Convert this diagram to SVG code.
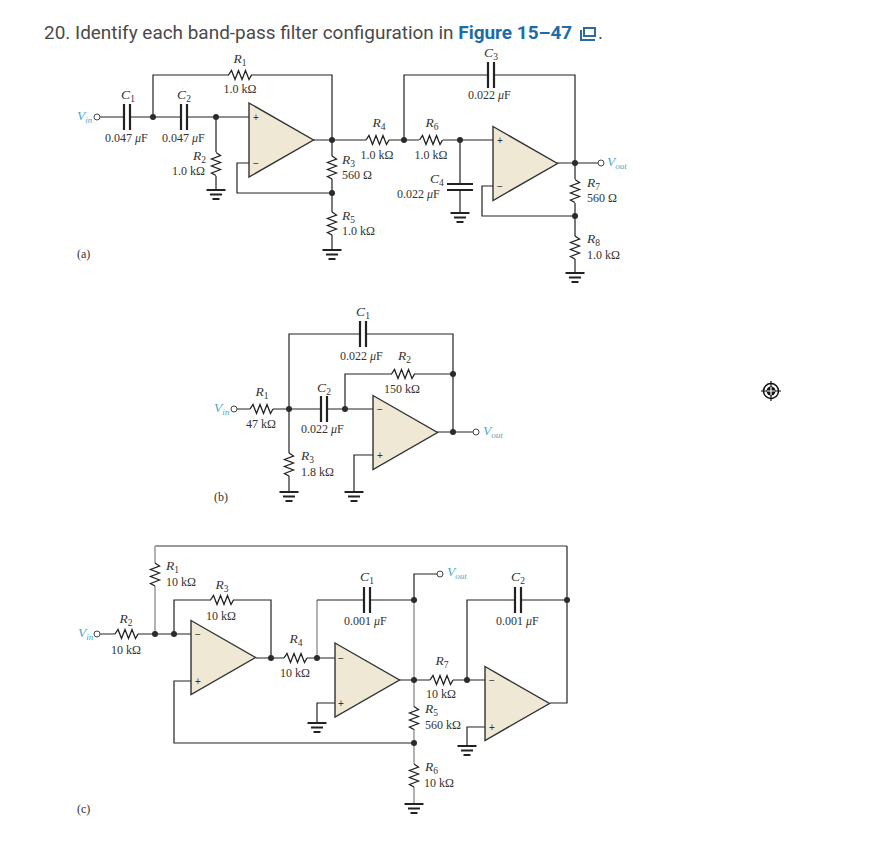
<svg xmlns="http://www.w3.org/2000/svg" width="883" height="841" viewBox="0 0 883 841">
<style>
text{font-family:"Liberation Serif","Times New Roman",serif;font-size:12px;fill:#333}
.m{text-anchor:middle}
.sym{font-size:13.5px;font-style:italic}
.sub{font-size:9.5px;font-style:normal}
.isub{font-size:9px;font-style:italic}
.u{font-style:italic}
.v{fill:#4da6cc}
.v .isub{fill:#4da6cc}
.sign{font-family:"Liberation Sans",sans-serif;font-size:10px;text-anchor:middle;fill:#333}
.title{font-family:Roboto,"Liberation Sans",sans-serif;font-size:18.950px;fill:#4a4a4a}
.link{font-family:Roboto,"Liberation Sans",sans-serif;font-size:18.950px;font-weight:700;fill:#1b6ca8}
.w{fill:none;stroke:#222;stroke-width:1.2}
.g1{fill:none;stroke:#777;stroke-width:1.3}
.g2{fill:none;stroke:#aaa;stroke-width:1.8}
.z{fill:none;stroke:#222;stroke-width:1.3;stroke-linejoin:miter}
.p{fill:none;stroke:#222;stroke-width:2.2}
.amp{fill:#efe8d4;stroke:#333;stroke-width:1.4}
.dot{fill:#2b2b2b}
.open{fill:#fff;stroke:#444;stroke-width:1}
.gnd{fill:none;stroke:#222;stroke-width:2}
</style>
<defs>
<path id="rh" class="z" d="M-11.5,0L-8.5,-4.5L-5,4.5L-1.5,-4.5L2,4.5L5.5,-4.5L9,4.5L11.5,0"/>
<path id="rv" class="z" d="M0,-11.5L4.5,-8.5L-4.5,-5L4.5,-1.5L-4.5,2L4.5,5.5L-4.5,9L0,11.5"/>
<path id="cv" class="p" d="M-3,-13V13M3,-13V13"/>
<path id="ch" class="p" d="M-13,-3H13M-13,3H13"/>
<path id="gnd" class="gnd" d="M-9.500,0H9.500M-6,4.500H6M-3.500,9H3.500"/>
<path id="amp" class="amp" d="M0,-37L64.500,0L0,37Z"/>
<circle id="dot" class="dot" r="3"/>
<circle id="open" class="open" r="3"/>
</defs>
<rect width="883" height="841" fill="#fff"/>

<g id="heading">
<text class="title" x="44" y="39">20. Identify each band-pass filter configuration in <tspan class="link">Figure 15–47</tspan></text>
<path fill="none" stroke="#2a6aa5" stroke-width="2" d="M584,28H595V36H584Z"/>
<path fill="none" stroke="#2a6aa5" stroke-width="2" d="M581,30V40H595"/>
<text class="title" x="598" y="39">.</text>
</g>

<g id="connectors">
<path class="w" d="M100,117H124M130,117H181M187,117H249M153,117V75H229M251,75H332V140M313,140H366M389,140H419M443,140H493M216,117V152M216,176V190M249,163H237V193H332M332,140V156M332,179V212M332,235V250M404,140V75H488M494,75H575V163M557,163H598M460,140V184M460,190V213M575,163V179M575,203V236M575,259V273M493,186H482V216H575"/>
<path class="w" d="M237,409H250M273,409H321M327,409H373M289,409V334H360M366,334H453V432M345,409V374H392M414,374H453M437,432H473M289,409V453M289,476V492M373,455H354V492"/>
<path class="g1" d="M155,546H567"/>
<path class="g2" d="M155,546V563M155,586V634M317,658V600M414,600V707M414,729V764M414,787V804"/>
<path class="w" d="M100,634H115M138,634H191M174,634V600H211M233,600H271V658M256,658H284M307,658H335M317,600H364M370,600H414M335,703H317V723M399,680H430M453,680H485M191,681H174V743H414M414,600V574H437M467,680V600H515M521,600H567M567,546V703H550M485,727H467V746"/>
</g>

<g id="panel-a">
<g id="a-vin"><use href="#open" x="97" y="117"/><text class="v sym" x="77" y="120">V<tspan class="isub" dy="3">in</tspan></text></g>
<g id="a-c1"><use href="#cv" x="127" y="117"/><text class="sym m" x="128" y="99">C<tspan class="sub" dy="3">1</tspan></text><text x="105" y="142">0.047 <tspan class="u">μ</tspan>F</text></g>
<g id="a-c2"><use href="#cv" x="184" y="117"/><text class="sym m" x="184" y="99">C<tspan class="sub" dy="3">2</tspan></text><text x="162" y="142">0.047 <tspan class="u">μ</tspan>F</text></g>
<g id="a-r1"><use href="#rh" x="240" y="75"/><text class="sym m" x="240" y="63">R<tspan class="sub" dy="3">1</tspan></text><text class="m" x="240" y="93">1.0 kΩ</text></g>
<g id="a-r2"><use href="#rv" x="216" y="164"/><text class="sym" x="193" y="160">R<tspan class="sub" dy="3">2</tspan></text><text x="172" y="175">1.0 kΩ</text></g>
<g id="a-u1"><use href="#amp" x="249" y="140"/><text class="sign" x="256" y="120.500">+</text><text class="sign" x="256" y="166.500">−</text></g>
<g id="a-r3"><use href="#rv" x="332" y="167.500"/><text class="sym" x="342" y="164">R<tspan class="sub" dy="3">3</tspan></text><text x="342" y="179">560 Ω</text></g>
<g id="a-r5"><use href="#rv" x="332" y="223.500"/><text class="sym" x="342" y="220">R<tspan class="sub" dy="3">5</tspan></text><text x="342" y="235">1.0 kΩ</text></g>
<g id="a-r4"><use href="#rh" x="377.500" y="140"/><text class="sym m" x="379" y="127">R<tspan class="sub" dy="3">4</tspan></text><text class="m" x="377" y="159">1.0 kΩ</text></g>
<g id="a-r6"><use href="#rh" x="431" y="140"/><text class="sym m" x="432" y="127">R<tspan class="sub" dy="3">6</tspan></text><text class="m" x="431" y="159">1.0 kΩ</text></g>
<g id="a-c3"><use href="#cv" x="491" y="75"/><text class="sym m" x="491" y="57">C<tspan class="sub" dy="3">3</tspan></text><text x="468" y="99">0.022 <tspan class="u">μ</tspan>F</text></g>
<g id="a-c4"><use href="#ch" x="460" y="187"/><text class="sym" x="430" y="183">C<tspan class="sub" dy="3">4</tspan></text><text x="397" y="198">0.022 <tspan class="u">μ</tspan>F</text></g>
<g id="a-u2"><use href="#amp" x="493" y="163.500"/><text class="sign" x="500" y="143.500">+</text><text class="sign" x="500" y="189.500">−</text></g>
<g id="a-r7"><use href="#rv" x="575" y="191"/><text class="sym" x="587" y="187">R<tspan class="sub" dy="3">7</tspan></text><text x="587" y="202">560 Ω</text></g>
<g id="a-r8"><use href="#rv" x="575" y="247.500"/><text class="sym" x="587" y="243">R<tspan class="sub" dy="3">8</tspan></text><text x="587" y="259">1.0 kΩ</text></g>
<g id="a-vout"><use href="#open" x="601" y="163"/><text class="v sym" x="607" y="166">V<tspan class="isub" dy="3">out</tspan></text></g>
<g id="a-junctions"><use href="#dot" x="153" y="117"/><use href="#dot" x="216" y="117"/><use href="#dot" x="332" y="140"/><use href="#dot" x="332" y="193"/><use href="#dot" x="404" y="140"/><use href="#dot" x="460" y="140"/><use href="#dot" x="575" y="163"/><use href="#dot" x="575" y="216"/></g>
<g id="a-grounds"><use href="#gnd" x="216" y="190"/><use href="#gnd" x="332" y="250"/><use href="#gnd" x="460" y="213"/><use href="#gnd" x="575" y="273"/></g>
<text id="a-label" x="77" y="258">(a)</text>
</g>

<g id="panel-b">
<g id="b-vin"><use href="#open" x="234" y="409"/><text class="v sym" x="214" y="412">V<tspan class="isub" dy="3">in</tspan></text></g>
<g id="b-r1"><use href="#rh" x="261.500" y="409"/><text class="sym m" x="262" y="396">R<tspan class="sub" dy="3">1</tspan></text><text class="m" x="261" y="428">47 kΩ</text></g>
<g id="b-c1"><use href="#cv" x="363" y="334"/><text class="sym m" x="363" y="316">C<tspan class="sub" dy="3">1</tspan></text><text x="340" y="360">0.022 <tspan class="u">μ</tspan>F</text></g>
<g id="b-c2"><use href="#cv" x="324" y="409"/><text class="sym m" x="324" y="392">C<tspan class="sub" dy="3">2</tspan></text><text x="301" y="433">0.022 <tspan class="u">μ</tspan>F</text></g>
<g id="b-r2"><use href="#rh" x="403" y="374"/><text class="sym" x="398" y="360">R<tspan class="sub" dy="3">2</tspan></text><text class="m" x="402" y="393">150 kΩ</text></g>
<g id="b-r3"><use href="#rv" x="289" y="464.500"/><text class="sym" x="301" y="460">R<tspan class="sub" dy="3">3</tspan></text><text x="301" y="476">1.8 kΩ</text></g>
<g id="b-u1"><use href="#amp" x="373" y="432.500"/><text class="sign" x="380" y="458.500">+</text><text class="sign" x="380" y="412.500">−</text></g>
<g id="b-vout"><use href="#open" x="476" y="432"/><text class="v sym" x="483" y="435">V<tspan class="isub" dy="3">out</tspan></text></g>
<g id="b-junctions"><use href="#dot" x="289" y="409"/><use href="#dot" x="345" y="409"/><use href="#dot" x="453" y="374"/><use href="#dot" x="453" y="432"/></g>
<g id="b-grounds"><use href="#gnd" x="289" y="492"/><use href="#gnd" x="354" y="492"/></g>
<text id="b-label" x="214" y="501">(b)</text>
</g>

<g id="panel-c">
<g id="c-vin"><use href="#open" x="97" y="634"/><text class="v sym" x="78" y="637">V<tspan class="isub" dy="3">in</tspan></text></g>
<g id="c-r1"><use href="#rv" x="155" y="574.500"/><text class="sym" x="166" y="570">R<tspan class="sub" dy="3">1</tspan></text><text x="166" y="586">10 kΩ</text></g>
<g id="c-r2"><use href="#rh" x="126.500" y="634"/><text class="sym m" x="126" y="623">R<tspan class="sub" dy="3">2</tspan></text><text class="m" x="126" y="654">10 kΩ</text></g>
<g id="c-r3"><use href="#rh" x="222" y="600"/><text class="sym m" x="222" y="589">R<tspan class="sub" dy="3">3</tspan></text><text class="m" x="221" y="620">10 kΩ</text></g>
<g id="c-r4"><use href="#rh" x="295.500" y="658"/><text class="sym m" x="296" y="643">R<tspan class="sub" dy="3">4</tspan></text><text class="m" x="295" y="677">10 kΩ</text></g>
<g id="c-r5"><use href="#rv" x="414" y="718"/><text class="sym" x="425" y="713">R<tspan class="sub" dy="3">5</tspan></text><text x="425" y="729">560 kΩ</text></g>
<g id="c-r6"><use href="#rv" x="414" y="775.500"/><text class="sym" x="425" y="771">R<tspan class="sub" dy="3">6</tspan></text><text x="424" y="787">10 kΩ</text></g>
<g id="c-r7"><use href="#rh" x="441.500" y="680"/><text class="sym m" x="442" y="665">R<tspan class="sub" dy="3">7</tspan></text><text class="m" x="441" y="698">10 kΩ</text></g>
<g id="c-c1"><use href="#cv" x="367" y="600"/><text class="sym m" x="367" y="581">C<tspan class="sub" dy="3">1</tspan></text><text x="344" y="625">0.001 <tspan class="u">μ</tspan>F</text></g>
<g id="c-c2"><use href="#cv" x="518" y="600"/><text class="sym m" x="518" y="581">C<tspan class="sub" dy="3">2</tspan></text><text x="496" y="625">0.001 <tspan class="u">μ</tspan>F</text></g>
<g id="c-u1"><use href="#amp" x="191" y="657.500"/><text class="sign" x="198" y="637.500">−</text><text class="sign" x="198" y="684.500">+</text></g>
<g id="c-u2"><use href="#amp" x="335" y="680"/><text class="sign" x="341" y="661.500">−</text><text class="sign" x="341" y="706.500">+</text></g>
<g id="c-u3"><use href="#amp" x="485" y="703.500"/><text class="sign" x="492" y="683.500">−</text><text class="sign" x="492" y="730.500">+</text></g>
<g id="c-vout"><use href="#open" x="440" y="574"/><text class="v sym" x="447" y="576">V<tspan class="isub" dy="3">out</tspan></text></g>
<g id="c-junctions"><use href="#dot" x="155" y="634"/><use href="#dot" x="174" y="634"/><use href="#dot" x="271" y="658"/><use href="#dot" x="317" y="658"/><use href="#dot" x="414" y="600"/><use href="#dot" x="414" y="680"/><use href="#dot" x="414" y="743"/><use href="#dot" x="467" y="680"/><use href="#dot" x="567" y="600"/></g>
<g id="c-grounds"><use href="#gnd" x="317" y="723"/><use href="#gnd" x="414" y="804"/><use href="#gnd" x="467" y="746"/></g>
<text id="c-label" x="77" y="813">(c)</text>
</g>

<g id="move-cursor">
<circle cx="771" cy="391" r="7.500" fill="none" stroke="#111" stroke-width="1.500"/>
<circle cx="771" cy="391" r="4.500" fill="#111"/>
<path stroke="#111" stroke-width="1.200" d="M771,381V401M761,391H781"/>
<path stroke="#fff" stroke-width="1.200" d="M771,387V395M767,391H775"/>
</g>
</svg>
